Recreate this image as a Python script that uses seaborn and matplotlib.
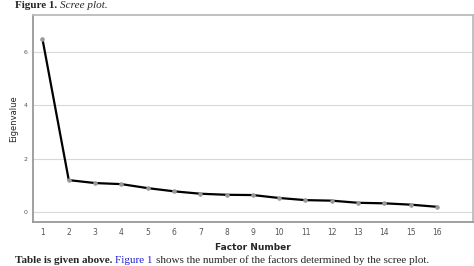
import matplotlib
matplotlib.use("Agg")
import matplotlib.pyplot as plt
import seaborn as sns
import pandas as pd

factors = list(range(1, 17))
eigenvalues = [6.49, 1.20, 1.09, 1.05, 0.90, 0.78, 0.69, 0.65, 0.64, 0.53, 0.45, 0.43, 0.35, 0.33, 0.28, 0.20]
yticks = [0, 2, 4, 6]

df = pd.DataFrame({"Factor Number": factors, "Eigenvalue": eigenvalues})

sns.set_style("white")
fig = plt.figure(figsize=(4.74, 2.66), dpi=100)
ax = fig.add_axes([33/474, 44/266, 440/474, 207/266])

for y in yticks:
    ax.axhline(y, color="#d8d8d8", lw=0.8, zorder=0)

sns.lineplot(data=df, x="Factor Number", y="Eigenvalue", ax=ax, color="black",
             lw=1.6, marker="o", markersize=2.5, markerfacecolor="#999999",
             markeredgecolor="#999999", zorder=3)

ax.set_xlim(0.64, 17.37)
ax.set_ylim(-0.37, 7.39)
ax.set_xticks(factors)
ax.set_xticklabels([str(f) for f in factors], fontsize=5.5, color="#555555")
ax.set_yticks(yticks)
ax.set_yticklabels([str(y) for y in yticks], fontsize=4.5, color="#555555")
ax.tick_params(axis="both", length=0, pad=4)
ax.set_xlabel("Factor Number", fontsize=6.5, fontweight="bold", labelpad=5)
ax.set_ylabel("Eigenvalue", fontsize=6, labelpad=4)
for side in ["left", "bottom"]:
    ax.spines[side].set_color("#999999")
    ax.spines[side].set_linewidth(1.3)
for side in ["top", "right"]:
    ax.spines[side].set_color("#bbbbbb")
    ax.spines[side].set_linewidth(1.3)

renderer = fig.canvas.get_renderer()

def run(parts, x0, y, va):
    x = x0
    for txt, kw in parts:
        t = fig.text(x / 474, y, txt, fontsize=8, family="Liberation Serif",
                     va=va, ha="left", **kw)
        bb = t.get_window_extent(renderer=renderer)
        x = bb.x1 + 3

run([("Figure 1.", {"fontweight": "bold"}), ("Scree plot.", {"style": "italic"})],
    15, 1 - 5/266, "center")
run([("Table is given above.", {"fontweight": "bold"}),
     ("Figure 1", {"color": "#2222cc"}),
     ("shows the number of the factors determined by the scree plot.", {})],
    15, 1/266, "bottom")

fig.savefig("out.png", dpi=100)
